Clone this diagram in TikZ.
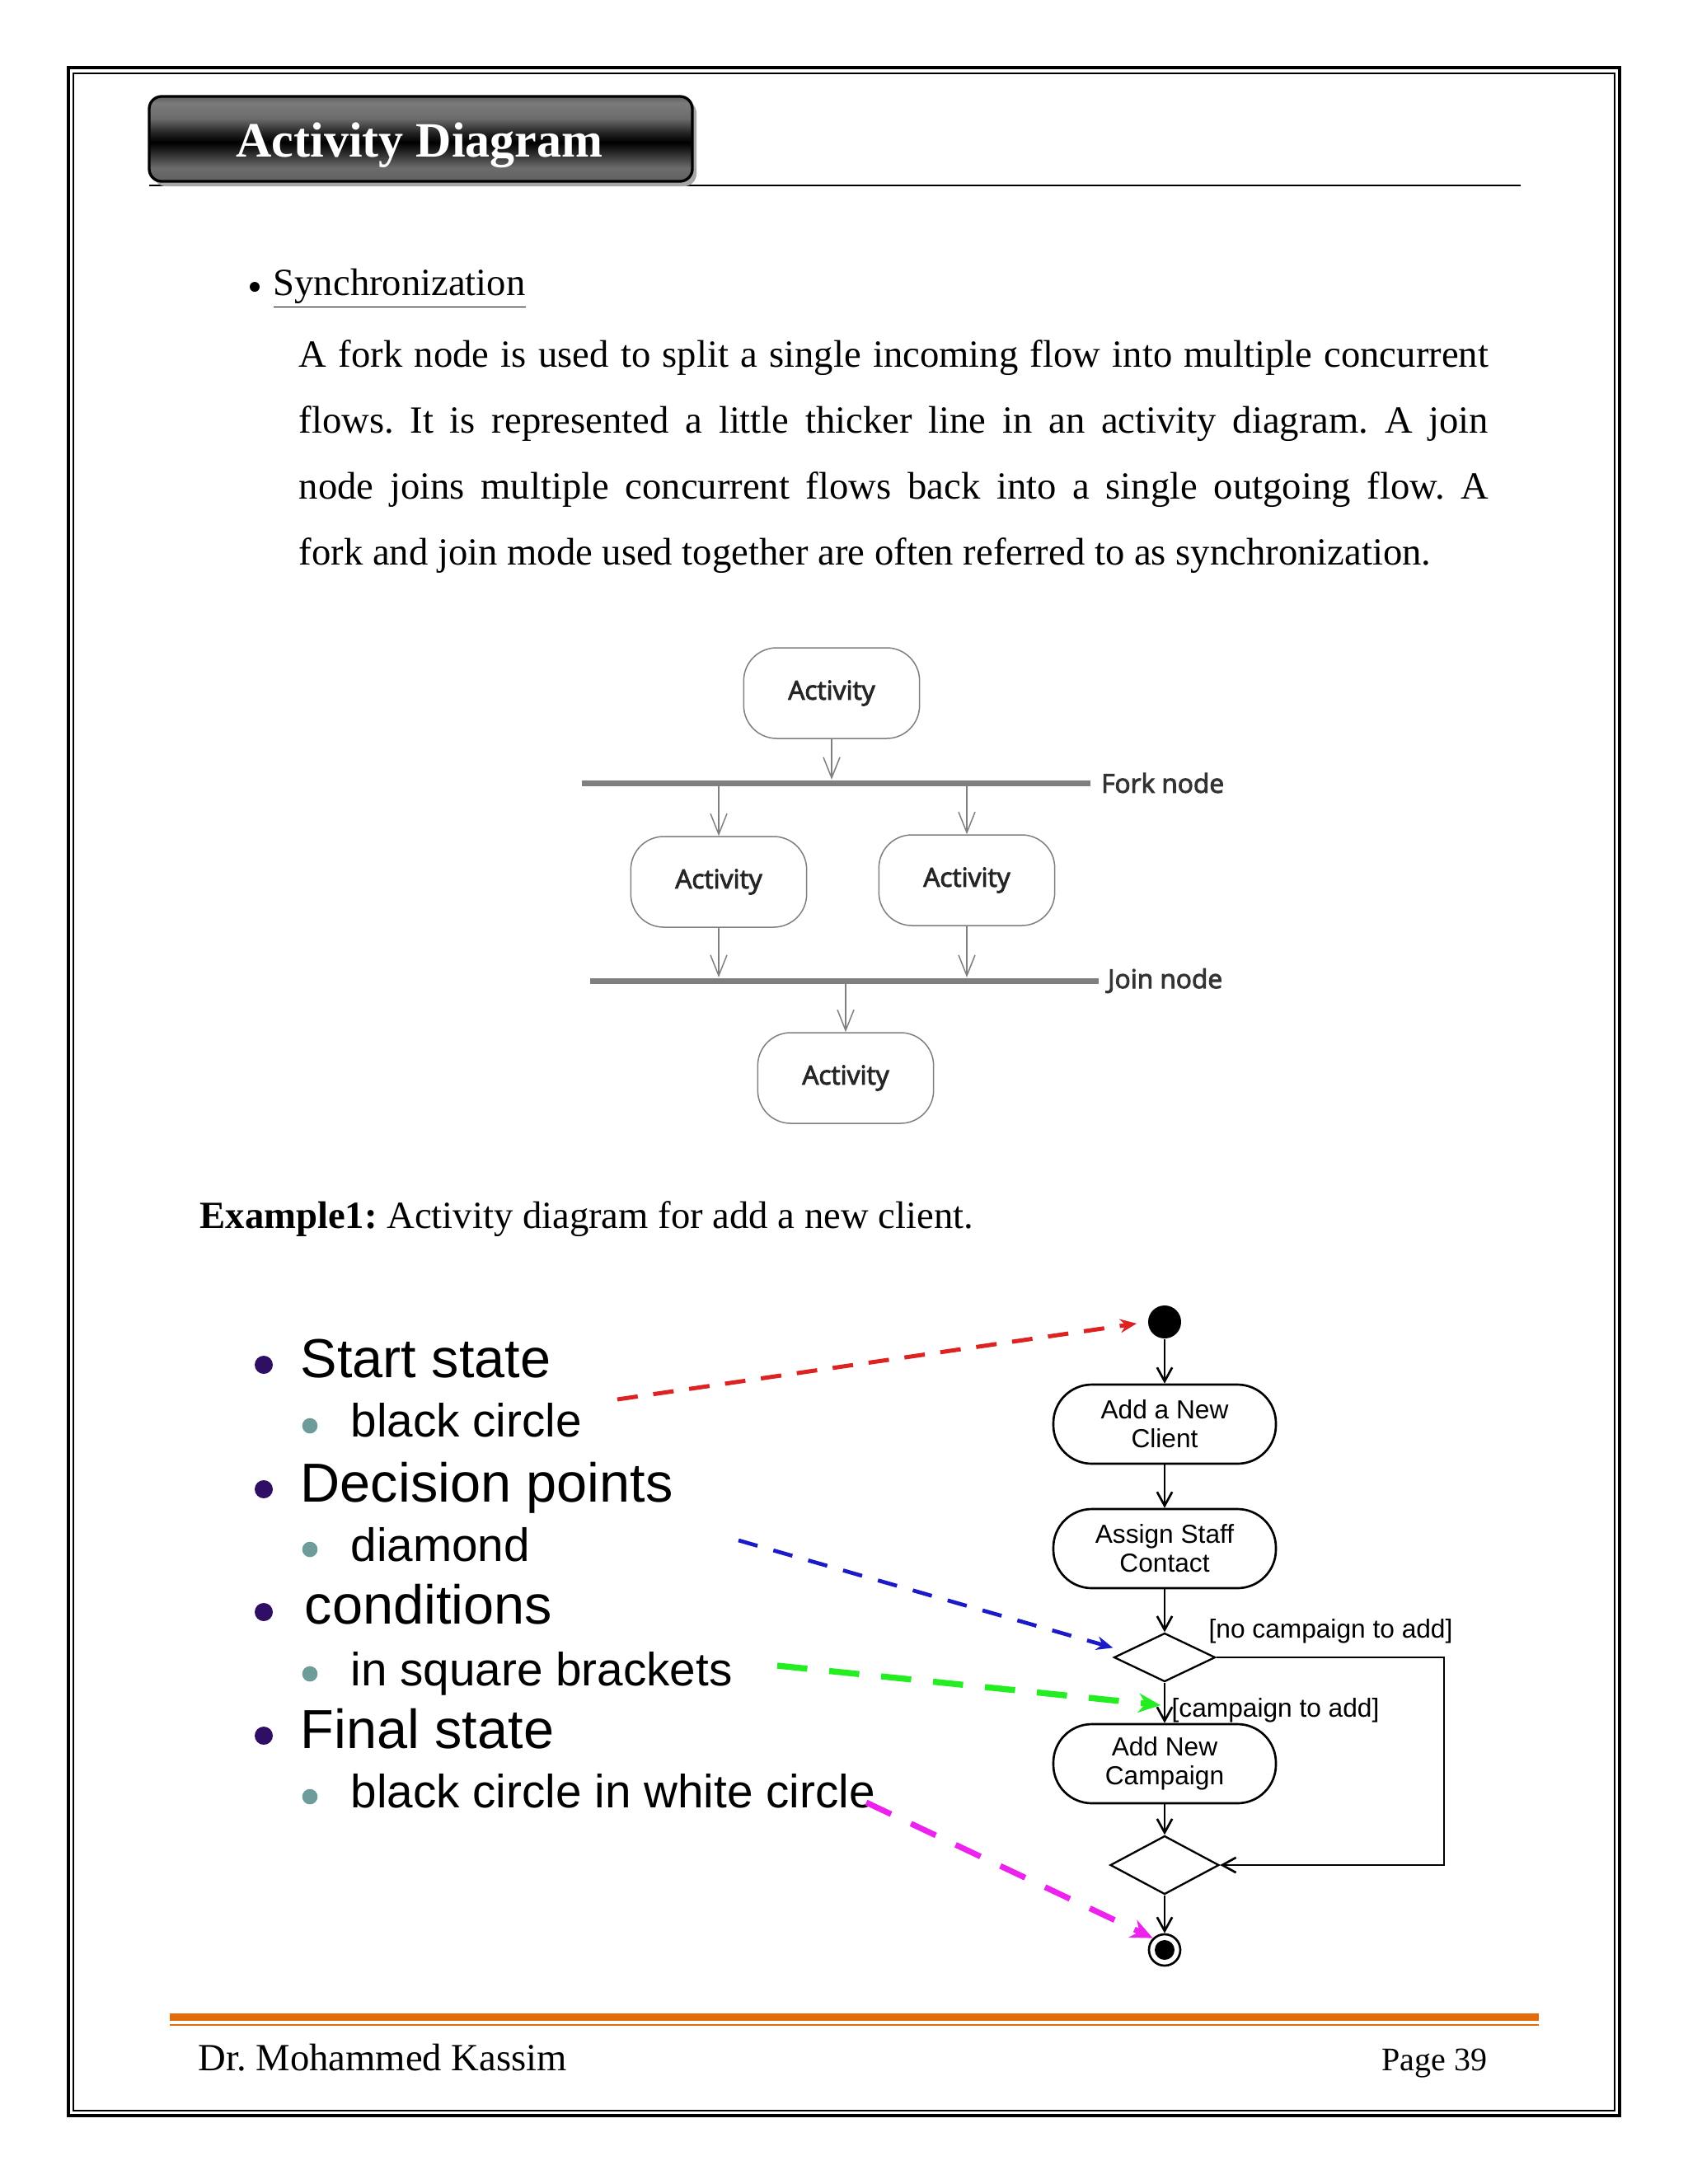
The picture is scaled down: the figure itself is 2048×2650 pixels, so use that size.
\documentclass[tikz,border=0pt]{standalone}
\usepackage{fontspec}
\setmainfont{Liberation Serif}
\newfontfamily\arialfont{Liberation Sans}
\newfontfamily\umlfont{Open Sans}[FakeBold=3]
\usepackage{tikz}
\usetikzlibrary{shapes.geometric}
\usetikzlibrary{positioning}
\usetikzlibrary{arrows.meta}
\definecolor{footorange}{HTML}{E36C0A}
\definecolor{listpurple}{HTML}{2F0F63}
\definecolor{listteal}{HTML}{6E9C9A}
\definecolor{umlgray}{HTML}{7F7F7F}
\definecolor{ptrred}{HTML}{DD2222}
\definecolor{ptrblue}{HTML}{1A1AC8}
\definecolor{ptrgreen}{HTML}{22EE22}
\definecolor{ptrmagenta}{HTML}{EE22EE}
\pgfdeclareverticalshading{titlebar}{100bp}{color(0bp)=(black!62); color(25bp)=(black!62);
    color(33bp)=(black!58); color(44bp)=(black!90); color(48bp)=(black); color(53bp)=(black!88);
    color(62bp)=(black!58); color(71bp)=(black!52); color(75bp)=(black!62); color(100bp)=(black!62)}
\frenchspacing

\begin{document}
\begin{tikzpicture}[x=0.3pt,y=-0.3pt,
    body/.style={anchor=base west, inner sep=0pt, font=\fontsize{14}{24}\selectfont},
    activity/.style={draw=umlgray, line width=0.45pt, rounded corners=12pt,
        minimum width=64pt, minimum height=33pt,
        font=\umlfont\fontsize{9.5}{11}\selectfont, text=black!85},
    bar/.style={fill=umlgray, inner sep=0pt, minimum width=185pt, minimum height=2.1pt},
    barlabel/.style={font=\umlfont\fontsize{9.5}{11}\selectfont, text=black!80, inner sep=0pt},
    gflow/.style={draw=umlgray, line width=0.45pt, -{Straight Barb[length=7.5pt,width=6pt]}},
    item/.style={anchor=base west, inner sep=0pt, font=\arialfont\fontsize{20}{24}\selectfont},
    subitem/.style={anchor=base west, inner sep=0pt, font=\arialfont\fontsize{17}{20}\selectfont},
    state/.style={draw, line width=0.8pt, rounded corners=14pt, minimum width=81pt,
        minimum height=28.8pt, align=center, font=\arialfont\fontsize{9.5}{10.5}\selectfont},
    decision/.style={diamond, draw, line width=0.7pt, inner sep=0pt},
    guard/.style={anchor=west, inner sep=0pt, font=\arialfont\fontsize{9.5}{11}\selectfont},
    flow/.style={draw, line width=0.8pt, -{Straight Barb[length=5pt,width=5.5pt]}},
    pointer/.style={line width=1.5pt, -{Stealth[length=6pt,width=5pt]}}]
    \useasboundingbox (0,0) rectangle (2048,2650);
    \fill[white] (0,0) rectangle (2048,2650);

    % page frame
    \draw[line width=1.2pt] (82.5,82) rectangle (1965,2567);
    \draw[line width=0.6pt] (89,89) rectangle (1959,2561);

    % title bar
    \draw[line width=0.6pt] (181,225) -- (1845,225);
    \fill[gray!70, rounded corners=4.5pt] (186,122) rectangle (845,226);
    \shadedraw[shading=titlebar, draw=black, line width=1pt, rounded corners=4.5pt]
        (181,117) rectangle (840,220);
    \node[anchor=base, inner sep=0pt, text=white, font=\bfseries\fontsize{18}{20}\selectfont]
        (title) at (509,190) {Activity Diagram};

    % synchronization text
    \node[circle, fill, inner sep=0pt, minimum size=3.6pt] (syncbullet) at (309,348) {};
    \node[body] (sync) at (331,358) {\underline{Synchronization}};
    \node[body] (par1) at (362,445) {\makebox[433pt][s]{A fork node is used to split a single incoming flow into multiple concurrent}};
    \node[body] (par2) at (362,525) {\makebox[433pt][s]{flows. It is represented a little thicker line in an activity diagram. A join}};
    \node[body] (par3) at (362,605) {\makebox[433pt][s]{node joins multiple concurrent flows back into a single outgoing flow. A}};
    \node[body] (par4) at (362,685) {fork and join mode used together are often referred to as synchronization.};

    % fork / join diagram
    \node[activity] (act1) at (1009,841) {Activity};
    \node[bar] (fork) at (1014.5,950) {};
    \node[barlabel, right=3.6pt of fork] (forklabel) {Fork node};
    \node[activity] (act2) at (872,1070) {Activity};
    \node[activity] (act3) at (1173,1068) {Activity};
    \node[bar] (join) at (1024.5,1190) {};
    \node[barlabel, right=3pt of join] (joinlabel) {Join node};
    \node[activity] (act4) at (1026,1308) {Activity};
    \draw[gflow] (act1.south) -- (act1.south |- fork.north);
    \draw[gflow] (fork.south -| act2.north) -- (act2.north);
    \draw[gflow] (fork.south -| act3.north) -- (act3.north);
    \draw[gflow] (act2.south) -- (act2.south |- join.north);
    \draw[gflow] (act3.south) -- (act3.south |- join.north);
    \draw[gflow] (join.south -| act4.north) -- (act4.north);

    % example 1
    \node[body] (example) at (242,1490) {\textbf{Example1:} Activity diagram for add a new client.};

    % list of notation
    \fill[listpurple] (320,1656) circle[radius=3.3pt];
    \node[item] (startitem) at (364,1671) {Start state};
    \fill[listteal] (376,1730) circle[radius=2.8pt];
    \node[subitem] (startsub) at (425,1743) {black circle};
    \fill[listpurple] (320,1807) circle[radius=3.3pt];
    \node[item] (decitem) at (364,1822) {Decision points};
    \fill[listteal] (376,1880) circle[radius=2.8pt];
    \node[subitem] (decsub) at (425,1894) {diamond};
    \fill[listpurple] (320,1956) circle[radius=3.3pt];
    \node[item] (conditem) at (369,1970) {conditions};
    \fill[listteal] (376,2031) circle[radius=2.8pt];
    \node[subitem] (condsub) at (425,2045) {in square brackets};
    \fill[listpurple] (320,2106) circle[radius=3.3pt];
    \node[item] (finalitem) at (364,2121) {Final state};
    \fill[listteal] (376,2180) circle[radius=2.8pt];
    \node[subitem] (finalsub) at (425,2193) {black circle in white circle};

    % activity diagram for a new client
    \node[circle, fill, minimum size=12pt, inner sep=0pt] (start) at (1413,1604) {};
    \node[state] (addclient) at (1413,1728) {Add a New\\Client};
    \node[state] (assign) at (1413,1879) {Assign Staff\\Contact};
    \node[decision, minimum width=36.9pt, minimum height=17.7pt] (choice) at (1413,2011) {};
    \node[state] (addcamp) at (1413,2140) {Add New\\Campaign};
    \node[decision, minimum width=39.6pt, minimum height=21.3pt] (merge) at (1413,2263) {};
    \node[circle, draw, line width=0.8pt, minimum size=11.4pt, inner sep=0pt] (final) at (1413,2366) {};
    \fill (final.center) circle[radius=3.6pt];
    \node[guard] (noguard) at (1466,1979) {[no campaign to add]};
    \node[guard] (yesguard) at (1421,2075) {[campaign to add]};
    \coordinate (loop) at (1752,2011);
    \draw[flow] (start) -- (addclient);
    \draw[flow] (addclient) -- (assign);
    \draw[flow] (assign) -- (choice);
    \draw[flow] (choice) -- (addcamp);
    \draw[flow] (addcamp) -- (merge);
    \draw[flow] (merge) -- (final);
    \draw[flow] (choice.east) -- (loop) |- (merge.east);

    % coloured pointers
    \coordinate (redtail) at (749,1698);
    \coordinate (bluetail) at (896,1869);
    \coordinate (greentail) at (943,2021);
    \coordinate (magentatail) at (1051,2187);
    \draw[pointer, ptrred, dash pattern=on 7.5pt off 5.7pt, shorten >=4pt] (redtail) -- (start.west);
    \draw[pointer, ptrblue, line width=1.4pt, dash pattern=on 7.2pt off 6pt] (bluetail) -- ([yshift=3.5pt]choice.west);
    \draw[pointer, ptrgreen, line width=2.2pt, dash pattern=on 11pt off 8pt,
        -{Stealth[length=8pt,width=7pt]}] (greentail) -- ([xshift=-1.5pt,yshift=6.5pt]addcamp.north);
    \draw[pointer, ptrmagenta, line width=2.1pt, dash pattern=on 10pt off 8pt,
        -{Stealth[length=8pt,width=7pt]}] (magentatail) -- (final.north west);

    % footer
    \draw[footorange, line width=2.7pt] (206,2447.5) -- (1867,2447.5);
    \draw[footorange, line width=0.75pt] (206,2457) -- (1867,2457);
    \node[body] (author) at (240,2512) {Dr. Mohammed Kassim};
    \node[body, anchor=base east, font=\fontsize{12}{14}\selectfont] (page) at (1805,2512) {Page 39};
\end{tikzpicture}
\end{document}
